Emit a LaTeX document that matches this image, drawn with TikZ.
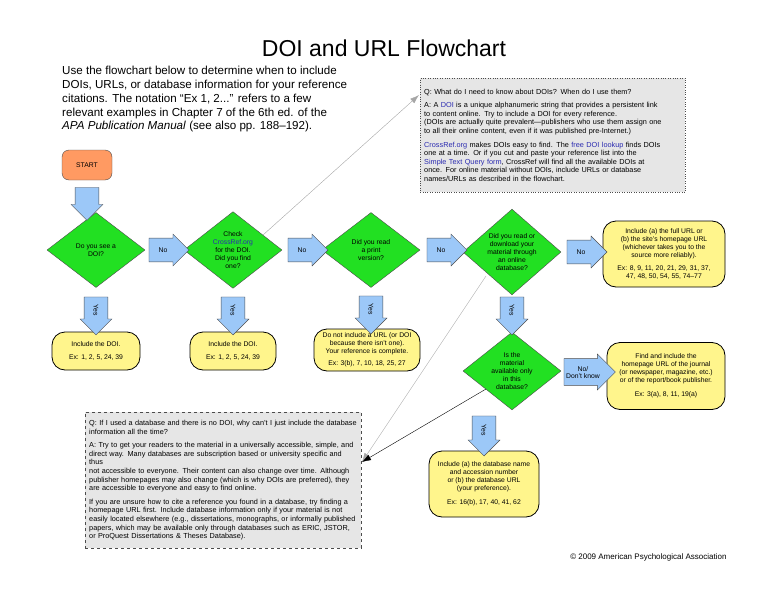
\documentclass[tikz,border=0pt]{standalone}
\usepackage{fontspec}
\setmainfont{Liberation Sans}
\usetikzlibrary{shapes.geometric,shapes.arrows,arrows.meta}
\definecolor{dgreen}{HTML}{22E022}
\definecolor{ablue}{HTML}{9CC8F8}
\definecolor{yel}{HTML}{FFF58C}
\definecolor{ora}{HTML}{FF9A62}
\definecolor{gbox}{HTML}{E6E6E6}
\definecolor{lnk}{HTML}{2B2BB0}
\begin{document}
\begin{tikzpicture}[x=1pt,y=-1pt,
  tx/.style={font=\fontsize{6.8}{7.9}\selectfont,align=center},
  dia/.style={diamond,draw=black!70,fill=dgreen,minimum width=98pt,minimum height=75pt,inner sep=0pt,tx},
  res/.style={draw=black,fill=yel,rounded corners=13pt,thick,tx,inner sep=1pt},
  rarr/.style={single arrow,draw=black!70,fill=ablue,minimum height=40pt,minimum width=32pt,single arrow head extend=4pt,inner xsep=2pt,inner ysep=8pt,text height=6pt,text depth=1pt,font=\fontsize{6.8}{7.5}\selectfont,anchor=center},
  darr/.style={rarr,rotate=-90},
  qbox/.style={draw=black!70,fill=gbox,font=\fontsize{7.3}{8.6}\selectfont,align=left,inner sep=4pt,anchor=north west}]
\useasboundingbox (0,0) rectangle (768,594);
\node[font=\fontsize{23}{27}\selectfont] (title) at (384,48) {DOI and URL Flowchart};
\node[anchor=north west,align=left,font=\fontsize{11.6}{13.8}\selectfont,inner sep=0pt] (intro) at (62,66) {Use the flowchart below to determine when to include\\DOIs, URLs, or database information for your reference\\citations. The notation “Ex 1, 2...” refers to a few\\relevant examples in Chapter 7 of the 6th ed. of the\\\textit{APA Publication Manual} (see also pp. 188–192).};
\node[draw=black!70,fill=ora,rounded corners=7pt,minimum width=50pt,minimum height=30pt,tx] (start) at (87,165) {START};
\node[dia] (d1) at (96,250) {Do you see a\\DOI?};
\node[dia] (d2) at (233,250) {Check\\\textcolor{lnk}{CrossRef.org}\\for the DOI.\\Did you find\\one?};
\node[dia] (d3) at (371,250) {Did you read\\a print\\version?};
\node[dia] (d4) at (512,252) {Did you read or\\download your\\material through\\an online\\database?};
\node[dia] (d5) at (512,371) {Is the\\material\\available only\\in this\\database?};
\node[res,minimum width=122pt,minimum height=66pt] (r5) at (664,254) {Include (a) the full URL or\\(b) the site's homepage URL\\(whichever takes you to the\\source more reliably).\\[5pt]Ex: 8, 9, 11, 20, 21, 29, 31, 37,\\47, 48, 50, 54, 55, 74–77};
\node[res,minimum width=88pt,minimum height=38pt] (r1) at (96,351) {Include the DOI.\\[5pt]Ex: 1, 2, 5, 24, 39};
\node[res,minimum width=86pt,minimum height=38pt] (r2) at (233,351) {Include the DOI.\\[5pt]Ex: 1, 2, 5, 24, 39};
\node[res,minimum width=106pt,minimum height=42pt] (r3) at (367,350) {Do not include a URL (or DOI\\because there isn't one).\\Your reference is complete.\\[4pt]Ex: 3(b), 7, 10, 18, 25, 27};
\node[res,minimum width=118pt,minimum height=67pt] (r6) at (666,376) {Find and include the\\homepage URL of the journal\\(or newspaper, magazine, etc.)\\or of the report/book publisher.\\[6pt]Ex: 3(a), 8, 11, 19(a)};
\node[res,minimum width=110pt,minimum height=66pt] (r7) at (484,484) {Include (a) the database name\\and accession number\\or (b) the database URL\\(your preference).\\[6pt]Ex: 16(b), 17, 40, 41, 62};
% block arrows
\node[darr,minimum height=33pt] (a0) at (87,198) {};
\node[rarr] (n1) at (163,250) {No};
\node[rarr] (n2) at (302,250) {No};
\node[rarr] (n3) at (441,250) {No};
\node[rarr] (n4) at (581,252) {No};
\node[rarr,minimum height=46pt,minimum width=36pt,text height=14pt,inner ysep=4pt,align=center] (n5) at (583,372) {No/\\Don't know};
\node[darr,minimum height=38pt] (y1) at (96,310) {Yes};
\node[darr,minimum height=38pt] (y2) at (233,310) {Yes};
\node[darr,minimum height=38pt] (y3) at (371,309) {Yes};
\node[darr,minimum height=38pt] (y4) at (512,310) {Yes};
\node[darr,minimum height=40pt] (y5) at (484,430) {Yes};
% Q boxes
\node[qbox,dotted,text width=257pt,minimum height=114pt] (q1) at (420,78) {Q: What do I need to know about DOIs? When do I use them?\\[5pt]A: A \textcolor{lnk}{DOI} is a unique alphanumeric string that provides a persistent link\\to content online. Try to include a DOI for every reference.\\(DOIs are actually quite prevalent—publishers who use them assign one\\to all their online content, even if it was published pre-Internet.)\\[5pt]\textcolor{lnk}{CrossRef.org} makes DOIs easy to find. The \textcolor{lnk}{free DOI lookup} finds DOIs\\one at a time. Or if you cut and paste your reference list into the\\\textcolor{lnk}{Simple Text Query form}, CrossRef will find all the available DOIs at\\once. For online material without DOIs, include URLs or database\\names/URLs as described in the flowchart.};
\node[qbox,dashed,text width=268pt,minimum height=136pt] (q2) at (85,412) {Q: If I used a database and there is no DOI, why can't I just include the database\\information all the time?\\[5pt]A: Try to get your readers to the material in a universally accessible, simple, and\\direct way. Many databases are subscription based or university specific and thus\\not accessible to everyone. Their content can also change over time. Although\\publisher homepages may also change (which is why DOIs are preferred), they\\are accessible to everyone and easy to find online.\\[5pt]If you are unsure how to cite a reference you found in a database, try finding a\\homepage URL first. Include database information only if your material is not\\easily located elsewhere (e.g., dissertations, monographs, or informally published\\papers, which may be available only through databases such as ERIC, JSTOR,\\or ProQuest Dissertations \& Theses Database).};
% thin connectors
\coordinate (c1) at (263,235);
\coordinate (c4) at (486,276);
\coordinate (c5) at (486,389);
\coordinate (t1) at (419,95);
\coordinate (t2) at (362,462);
\draw[-{Latex[length=9pt,width=6pt]},black!35] (c1) -- (t1);
\draw[black!35,-{Latex[length=9pt,width=6pt]}] (c4) -- (t2);
\draw[black,-{Latex[length=9pt,width=6pt]}] (c5) -- (t2);
\node[anchor=east,font=\fontsize{8}{9}\selectfont] (copy) at (730,557) {© 2009 American Psychological Association};
\end{tikzpicture}
\end{document}
